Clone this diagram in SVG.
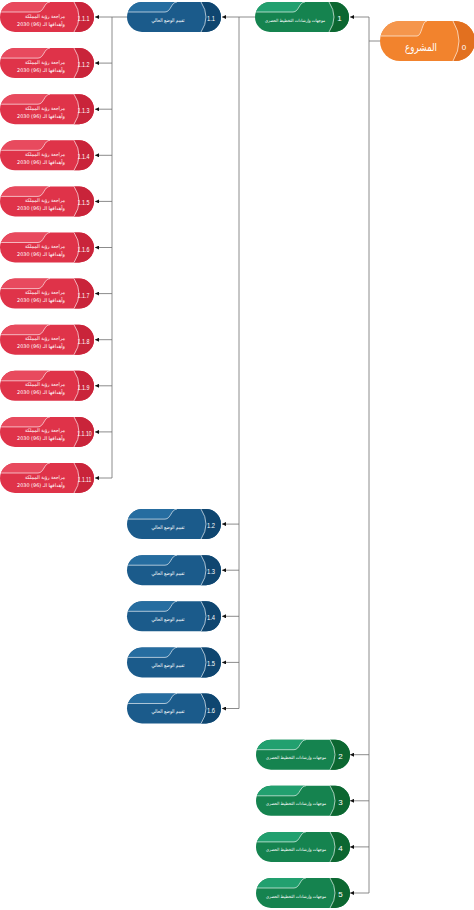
<svg xmlns="http://www.w3.org/2000/svg" xmlns:xlink="http://www.w3.org/1999/xlink" width="474" height="910" viewBox="0 0 474 910">
<style>
.red{fill:#df3349}.red-g{fill:#e84a5e}.red-d{fill:#c9243a}
.blue{fill:#1b5b8b}.blue-g{fill:#266da0}.blue-d{fill:#0f4670}
.green{fill:#15834f}.green-g{fill:#22a06f}.green-d{fill:#0c6731}
.orange{fill:#f2832d}.orange-g{fill:#f5964c}.orange-d{fill:#e2701f}
.deco{fill:none;stroke:#fff;stroke-width:0.7;stroke-opacity:0.9}
.num{font-family:"Liberation Sans",sans-serif;font-size:8px;fill:#fff;text-anchor:middle}
.lbl{font-family:"DejaVu Sans","Noto Sans",sans-serif;font-size:5px;fill:#fff;text-anchor:middle;direction:rtl}
.glbl{font-family:"DejaVu Sans","Noto Sans",sans-serif;font-size:4.4px;fill:#fff;text-anchor:middle;direction:rtl}
.big{font-family:"DejaVu Sans","Noto Sans",sans-serif;font-size:11px;fill:#fff;text-anchor:middle;direction:rtl}
.con{fill:none;stroke:#6e6e6e;stroke-width:0.8}
</style>
<defs>
<path id="pill" d="M15,0 H79 A15,15 0 0 1 79,30 H15 A15,15 0 0 1 15,0 Z"/>
<path id="gloss" d="M0.86,10 A15,15 0 0 1 15,0 H50 C44,0 44,10 38,10 Z"/>
<path id="dark" d="M74,0 H79 A15,15 0 0 1 79,30 H74 Q84,15 74,0 Z"/>
<path id="deco" d="M1.2,10 H38 C44,10 44,0 50,0 M74,0 Q84,15 74,30"/>
<marker id="arr" viewBox="0 0 6 6" refX="6" refY="3" markerWidth="4" markerHeight="4" markerUnits="userSpaceOnUse" orient="auto">
<path d="M0,0 L6,3 L0,6 Z" fill="#111"/>
</marker>
</defs>

<g id="connectors">
<path class="con" d="M380,41 H369 M369,17 V893"/>
<path class="con" marker-end="url(#arr)" d="M369,17 H350"/>
<path class="con" marker-end="url(#arr)" d="M369,754.7 H350"/>
<path class="con" marker-end="url(#arr)" d="M369,800.8 H350"/>
<path class="con" marker-end="url(#arr)" d="M369,846.9 H350"/>
<path class="con" marker-end="url(#arr)" d="M369,893 H350"/>
<path class="con" d="M255,17 H239 V708.5"/>
<path class="con" marker-end="url(#arr)" d="M239,17 H222"/>
<path class="con" marker-end="url(#arr)" d="M239,524.1 H222"/>
<path class="con" marker-end="url(#arr)" d="M239,570.2 H222"/>
<path class="con" marker-end="url(#arr)" d="M239,616.3 H222"/>
<path class="con" marker-end="url(#arr)" d="M239,662.4 H222"/>
<path class="con" marker-end="url(#arr)" d="M239,708.5 H222"/>
<path class="con" d="M127,17 H112 V478"/>
<path class="con" marker-end="url(#arr)" d="M112,17 H95"/>
<path class="con" marker-end="url(#arr)" d="M112,63.1 H95"/>
<path class="con" marker-end="url(#arr)" d="M112,109.2 H95"/>
<path class="con" marker-end="url(#arr)" d="M112,155.3 H95"/>
<path class="con" marker-end="url(#arr)" d="M112,201.4 H95"/>
<path class="con" marker-end="url(#arr)" d="M112,247.5 H95"/>
<path class="con" marker-end="url(#arr)" d="M112,293.6 H95"/>
<path class="con" marker-end="url(#arr)" d="M112,339.7 H95"/>
<path class="con" marker-end="url(#arr)" d="M112,385.8 H95"/>
<path class="con" marker-end="url(#arr)" d="M112,431.9 H95"/>
<path class="con" marker-end="url(#arr)" d="M112,478 H95"/>
</g>

<g id="n0" transform="translate(380,21)">
<path class="orange" d="M20,0 H75 A20,20 0 0 1 75,40 H20 A20,20 0 0 1 20,0 Z"/>
<path class="orange-g" d="M0.64,15 A20,20 0 0 1 20,0 H47 C42,0 42,15 37,15 Z"/>
<path class="orange-d" d="M73,0 H75 A20,20 0 0 1 75,40 H73 Q85,20 73,0 Z"/>
<path class="deco" d="M1,15 H37 C42,15 42,0 47,0 M73,0 Q85,20 73,40"/>
<text class="big" x="41" y="29.5" textLength="32" lengthAdjust="spacingAndGlyphs">المشروع</text>
<text class="num" x="84" y="28.5">0</text>
</g>

<g id="n1" transform="translate(255,2)">
<use href="#pill" class="green"/><use href="#gloss" class="green-g"/><use href="#dark" class="green-d"/><use href="#deco" class="deco"/>
<text class="glbl" x="40" y="19.5" textLength="60" lengthAdjust="spacingAndGlyphs">موجهات وإرشادات التخطيط الحضري</text>
<text class="num" x="84.5" y="19">1</text>
</g>
<g id="n2" transform="translate(256,739.7)">
<use href="#pill" class="green"/><use href="#gloss" class="green-g"/><use href="#dark" class="green-d"/><use href="#deco" class="deco"/>
<text class="glbl" x="40" y="19.5" textLength="60" lengthAdjust="spacingAndGlyphs">موجهات وإرشادات التخطيط الحضري</text>
<text class="num" x="84.5" y="19">2</text>
</g>
<g id="n3" transform="translate(256,785.8)">
<use href="#pill" class="green"/><use href="#gloss" class="green-g"/><use href="#dark" class="green-d"/><use href="#deco" class="deco"/>
<text class="glbl" x="40" y="19.5" textLength="60" lengthAdjust="spacingAndGlyphs">موجهات وإرشادات التخطيط الحضري</text>
<text class="num" x="84.5" y="19">3</text>
</g>
<g id="n4" transform="translate(256,831.9)">
<use href="#pill" class="green"/><use href="#gloss" class="green-g"/><use href="#dark" class="green-d"/><use href="#deco" class="deco"/>
<text class="glbl" x="40" y="19.5" textLength="60" lengthAdjust="spacingAndGlyphs">موجهات وإرشادات التخطيط الحضري</text>
<text class="num" x="84.5" y="19">4</text>
</g>
<g id="n5" transform="translate(256,878)">
<use href="#pill" class="green"/><use href="#gloss" class="green-g"/><use href="#dark" class="green-d"/><use href="#deco" class="deco"/>
<text class="glbl" x="40" y="19.5" textLength="60" lengthAdjust="spacingAndGlyphs">موجهات وإرشادات التخطيط الحضري</text>
<text class="num" x="84.5" y="19">5</text>
</g>

<g id="n1-1" transform="translate(127,2)">
<use href="#pill" class="blue"/><use href="#gloss" class="blue-g"/><use href="#dark" class="blue-d"/><use href="#deco" class="deco"/>
<text class="lbl" x="41" y="19.5" textLength="33" lengthAdjust="spacingAndGlyphs">تقييم الوضع الحالي</text>
<text class="num" x="84" y="19" textLength="8" lengthAdjust="spacingAndGlyphs">1.1</text>
</g>
<g id="n1-2" transform="translate(127,509.1)">
<use href="#pill" class="blue"/><use href="#gloss" class="blue-g"/><use href="#dark" class="blue-d"/><use href="#deco" class="deco"/>
<text class="lbl" x="41" y="19.5" textLength="33" lengthAdjust="spacingAndGlyphs">تقييم الوضع الحالي</text>
<text class="num" x="84" y="19" textLength="8" lengthAdjust="spacingAndGlyphs">1.2</text>
</g>
<g id="n1-3" transform="translate(127,555.2)">
<use href="#pill" class="blue"/><use href="#gloss" class="blue-g"/><use href="#dark" class="blue-d"/><use href="#deco" class="deco"/>
<text class="lbl" x="41" y="19.5" textLength="33" lengthAdjust="spacingAndGlyphs">تقييم الوضع الحالي</text>
<text class="num" x="84" y="19" textLength="8" lengthAdjust="spacingAndGlyphs">1.3</text>
</g>
<g id="n1-4" transform="translate(127,601.3)">
<use href="#pill" class="blue"/><use href="#gloss" class="blue-g"/><use href="#dark" class="blue-d"/><use href="#deco" class="deco"/>
<text class="lbl" x="41" y="19.5" textLength="33" lengthAdjust="spacingAndGlyphs">تقييم الوضع الحالي</text>
<text class="num" x="84" y="19" textLength="8" lengthAdjust="spacingAndGlyphs">1.4</text>
</g>
<g id="n1-5" transform="translate(127,647.4)">
<use href="#pill" class="blue"/><use href="#gloss" class="blue-g"/><use href="#dark" class="blue-d"/><use href="#deco" class="deco"/>
<text class="lbl" x="41" y="19.5" textLength="33" lengthAdjust="spacingAndGlyphs">تقييم الوضع الحالي</text>
<text class="num" x="84" y="19" textLength="8" lengthAdjust="spacingAndGlyphs">1.5</text>
</g>
<g id="n1-6" transform="translate(127,693.5)">
<use href="#pill" class="blue"/><use href="#gloss" class="blue-g"/><use href="#dark" class="blue-d"/><use href="#deco" class="deco"/>
<text class="lbl" x="41" y="19.5" textLength="33" lengthAdjust="spacingAndGlyphs">تقييم الوضع الحالي</text>
<text class="num" x="84" y="19" textLength="8" lengthAdjust="spacingAndGlyphs">1.6</text>
</g>

<g id="n1-1-1" transform="translate(0,2)">
<use href="#pill" class="red"/><use href="#gloss" class="red-g"/><use href="#dark" class="red-d"/><use href="#deco" class="deco"/>
<text class="lbl" x="45" y="15.5" textLength="40" lengthAdjust="spacingAndGlyphs">مراجعة رؤية المملكة</text>
<text class="lbl" x="41" y="23.5" textLength="48" lengthAdjust="spacingAndGlyphs">وأهدافها الـ (96) 2030</text>
<text class="num" x="83.5" y="19" textLength="12" lengthAdjust="spacingAndGlyphs">1.1.1</text>
</g>
<g id="n1-1-2" transform="translate(0,48.1)">
<use href="#pill" class="red"/><use href="#gloss" class="red-g"/><use href="#dark" class="red-d"/><use href="#deco" class="deco"/>
<text class="lbl" x="45" y="15.5" textLength="40" lengthAdjust="spacingAndGlyphs">مراجعة رؤية المملكة</text>
<text class="lbl" x="41" y="23.5" textLength="48" lengthAdjust="spacingAndGlyphs">وأهدافها الـ (96) 2030</text>
<text class="num" x="83.5" y="19" textLength="12" lengthAdjust="spacingAndGlyphs">1.1.2</text>
</g>
<g id="n1-1-3" transform="translate(0,94.2)">
<use href="#pill" class="red"/><use href="#gloss" class="red-g"/><use href="#dark" class="red-d"/><use href="#deco" class="deco"/>
<text class="lbl" x="45" y="15.5" textLength="40" lengthAdjust="spacingAndGlyphs">مراجعة رؤية المملكة</text>
<text class="lbl" x="41" y="23.5" textLength="48" lengthAdjust="spacingAndGlyphs">وأهدافها الـ (96) 2030</text>
<text class="num" x="83.5" y="19" textLength="12" lengthAdjust="spacingAndGlyphs">1.1.3</text>
</g>
<g id="n1-1-4" transform="translate(0,140.3)">
<use href="#pill" class="red"/><use href="#gloss" class="red-g"/><use href="#dark" class="red-d"/><use href="#deco" class="deco"/>
<text class="lbl" x="45" y="15.5" textLength="40" lengthAdjust="spacingAndGlyphs">مراجعة رؤية المملكة</text>
<text class="lbl" x="41" y="23.5" textLength="48" lengthAdjust="spacingAndGlyphs">وأهدافها الـ (96) 2030</text>
<text class="num" x="83.5" y="19" textLength="12" lengthAdjust="spacingAndGlyphs">1.1.4</text>
</g>
<g id="n1-1-5" transform="translate(0,186.4)">
<use href="#pill" class="red"/><use href="#gloss" class="red-g"/><use href="#dark" class="red-d"/><use href="#deco" class="deco"/>
<text class="lbl" x="45" y="15.5" textLength="40" lengthAdjust="spacingAndGlyphs">مراجعة رؤية المملكة</text>
<text class="lbl" x="41" y="23.5" textLength="48" lengthAdjust="spacingAndGlyphs">وأهدافها الـ (96) 2030</text>
<text class="num" x="83.5" y="19" textLength="12" lengthAdjust="spacingAndGlyphs">1.1.5</text>
</g>
<g id="n1-1-6" transform="translate(0,232.5)">
<use href="#pill" class="red"/><use href="#gloss" class="red-g"/><use href="#dark" class="red-d"/><use href="#deco" class="deco"/>
<text class="lbl" x="45" y="15.5" textLength="40" lengthAdjust="spacingAndGlyphs">مراجعة رؤية المملكة</text>
<text class="lbl" x="41" y="23.5" textLength="48" lengthAdjust="spacingAndGlyphs">وأهدافها الـ (96) 2030</text>
<text class="num" x="83.5" y="19" textLength="12" lengthAdjust="spacingAndGlyphs">1.1.6</text>
</g>
<g id="n1-1-7" transform="translate(0,278.6)">
<use href="#pill" class="red"/><use href="#gloss" class="red-g"/><use href="#dark" class="red-d"/><use href="#deco" class="deco"/>
<text class="lbl" x="45" y="15.5" textLength="40" lengthAdjust="spacingAndGlyphs">مراجعة رؤية المملكة</text>
<text class="lbl" x="41" y="23.5" textLength="48" lengthAdjust="spacingAndGlyphs">وأهدافها الـ (96) 2030</text>
<text class="num" x="83.5" y="19" textLength="12" lengthAdjust="spacingAndGlyphs">1.1.7</text>
</g>
<g id="n1-1-8" transform="translate(0,324.7)">
<use href="#pill" class="red"/><use href="#gloss" class="red-g"/><use href="#dark" class="red-d"/><use href="#deco" class="deco"/>
<text class="lbl" x="45" y="15.5" textLength="40" lengthAdjust="spacingAndGlyphs">مراجعة رؤية المملكة</text>
<text class="lbl" x="41" y="23.5" textLength="48" lengthAdjust="spacingAndGlyphs">وأهدافها الـ (96) 2030</text>
<text class="num" x="83.5" y="19" textLength="12" lengthAdjust="spacingAndGlyphs">1.1.8</text>
</g>
<g id="n1-1-9" transform="translate(0,370.8)">
<use href="#pill" class="red"/><use href="#gloss" class="red-g"/><use href="#dark" class="red-d"/><use href="#deco" class="deco"/>
<text class="lbl" x="45" y="15.5" textLength="40" lengthAdjust="spacingAndGlyphs">مراجعة رؤية المملكة</text>
<text class="lbl" x="41" y="23.5" textLength="48" lengthAdjust="spacingAndGlyphs">وأهدافها الـ (96) 2030</text>
<text class="num" x="83.5" y="19" textLength="12" lengthAdjust="spacingAndGlyphs">1.1.9</text>
</g>
<g id="n1-1-10" transform="translate(0,416.9)">
<use href="#pill" class="red"/><use href="#gloss" class="red-g"/><use href="#dark" class="red-d"/><use href="#deco" class="deco"/>
<text class="lbl" x="45" y="15.5" textLength="40" lengthAdjust="spacingAndGlyphs">مراجعة رؤية المملكة</text>
<text class="lbl" x="41" y="23.5" textLength="48" lengthAdjust="spacingAndGlyphs">وأهدافها الـ (96) 2030</text>
<text class="num" x="84.5" y="19" textLength="14.5" lengthAdjust="spacingAndGlyphs">1.1.10</text>
</g>
<g id="n1-1-11" transform="translate(0,463)">
<use href="#pill" class="red"/><use href="#gloss" class="red-g"/><use href="#dark" class="red-d"/><use href="#deco" class="deco"/>
<text class="lbl" x="45" y="15.5" textLength="40" lengthAdjust="spacingAndGlyphs">مراجعة رؤية المملكة</text>
<text class="lbl" x="41" y="23.5" textLength="48" lengthAdjust="spacingAndGlyphs">وأهدافها الـ (96) 2030</text>
<text class="num" x="84.5" y="19" textLength="13.5" lengthAdjust="spacingAndGlyphs">1.1.11</text>
</g>
</svg>
